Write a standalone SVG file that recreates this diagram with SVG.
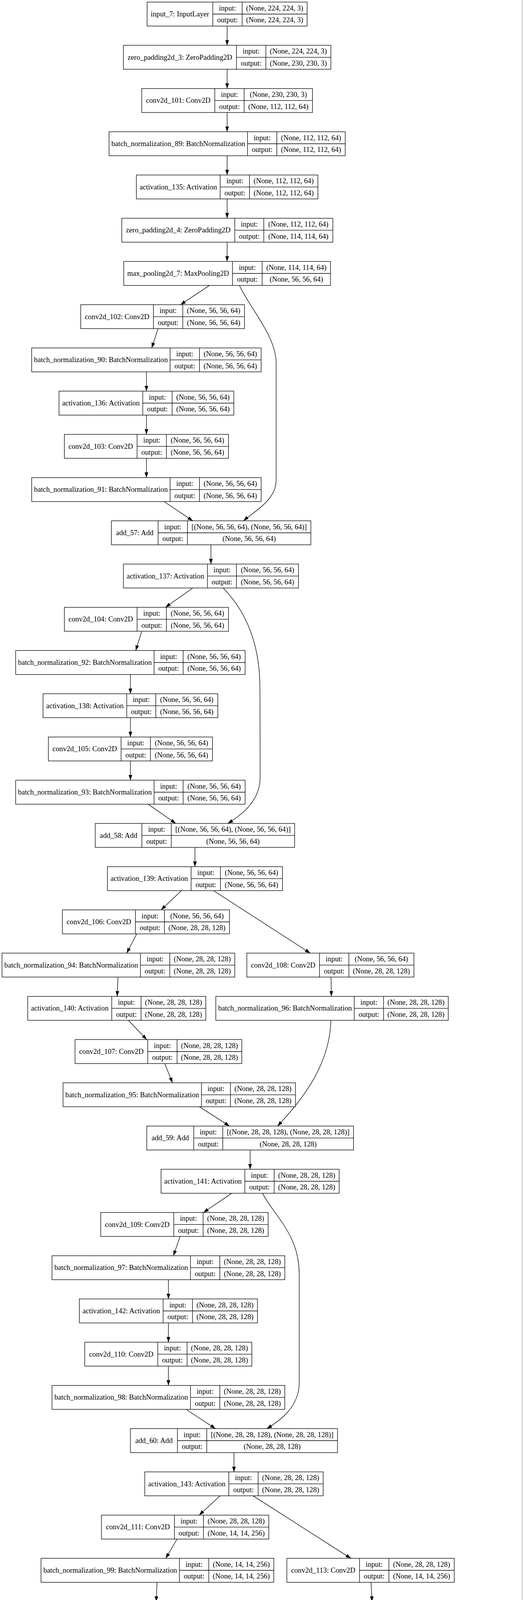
<svg xmlns="http://www.w3.org/2000/svg" width="1339" height="7156" viewBox="0 0 1339 7156">
<style>
.n rect{fill:#fff;stroke:#000;stroke-width:1.33}
.n path{fill:none;stroke:#000;stroke-width:1.33}
text{font-family:"Liberation Serif","Times New Roman",serif;font-size:18.67px;text-anchor:middle;fill:#000}
#edges path{fill:none;stroke:#000;stroke-width:1.33;marker-end:url(#ah)}
</style>
<defs>
<marker id="ah" markerUnits="userSpaceOnUse" markerWidth="14" markerHeight="10" refX="13.33" refY="4.67" orient="auto" overflow="visible"><path d="M0,0L13.33,4.67L0,9.33z" fill="#000"/></marker>
</defs>
<rect width="1339" height="7156" fill="#fff"/>
<line x1="1337" y1="0" x2="1337" y2="7156" stroke="#888" stroke-width="1"/>
<g id="edges">
<path d="M581.5,66.67V116"/>
<path d="M581.5,177.33V226.67"/>
<path d="M581.5,288V337.33"/>
<path d="M581.5,398.67V448"/>
<path d="M581.5,509.33V558.67"/>
<path d="M581.5,620V669.33"/>
<path d="M536.3,730.67L462,780"/>
<path d="M613.1,730.67C640,790 707,860 707,930L707,1230C707,1280 650,1310 623.4,1333.33"/>
<path d="M404.7,841.33L388.5,890.67"/>
<path d="M374.9,952V1001.33"/>
<path d="M374.9,1062.67V1112"/>
<path d="M374.9,1173.33V1222.67"/>
<path d="M420.1,1284L493.6,1333.33"/>
<path d="M540,1394.67V1444"/>
<path d="M493.6,1505.33L423.5,1554.67"/>
<path d="M571.3,1505.33C625,1560 665,1640 665.5,1760L666,1990C666,2050 620,2085 583.2,2108"/>
<path d="M362.9,1616L347.5,1665.33"/>
<path d="M333.9,1726.67V1776"/>
<path d="M333.9,1837.33V1886.67"/>
<path d="M333.9,1948V1997.33"/>
<path d="M379.1,2058.67L450,2108"/>
<path d="M499.1,2169.33V2218.67"/>
<path d="M464.5,2280L412.4,2329.33"/>
<path d="M546.5,2280L794.1,2440"/>
<path d="M350.1,2390.67L324.5,2440"/>
<path d="M302,2501.33L300,2550.67"/>
<path d="M847.5,2501.33L848.5,2550.67"/>
<path d="M328.7,2612L375.7,2661.33"/>
<path d="M421.8,2722.67L441.5,2772"/>
<path d="M510.6,2833.33L587.5,2882.67"/>
<path d="M847.1,2612C845,2720 780,2810 710.4,2882.67"/>
<path d="M640.4,2944V2993.33"/>
<path d="M593.4,3054.67L520.9,3104"/>
<path d="M672,3054.67C700,3110 766,3160 766,3260L766,3540C766,3600 720,3635 683.1,3657.33"/>
<path d="M461.1,3165.33L444,3214.67"/>
<path d="M431.2,3276V3325.33"/>
<path d="M431.2,3386.67V3436"/>
<path d="M431.2,3497.33V3546.67"/>
<path d="M476.5,3608L551.6,3657.33"/>
<path d="M599,3718.67V3768"/>
<path d="M563.6,3829.33L509.8,3878.67"/>
<path d="M648.1,3829.33L898.3,3989.33"/>
<path d="M453.4,3940L424.4,3989.33"/>
<path d="M402,4050.67L400,4100"/>
<path d="M950,4050.67L952.5,4100"/>
<path d="M427,4161.33L472.2,4210.67"/>
<path d="M520.9,4272L543.1,4321.33"/>
<path d="M608.8,4382.67L690,4432"/>
<path d="M950.4,4161.33C948,4270 890,4380 817.2,4432"/>
<path d="M741.6,4493.33V4542.67"/>
<path d="M694.2,4604L620.8,4653.33"/>
<path d="M773.6,4604C802,4660 868.4,4710 868.4,4810L868.4,5090C868.4,5150 822,5185 785.6,5206.67"/>
<path d="M559.3,4714.67L542.2,4764"/>
<path d="M528.1,4825.33V4874.67"/>
<path d="M528.1,4936V4985.33"/>
<path d="M528.1,5046.67V5096"/>
<path d="M576.4,5157.33L650.7,5206.67"/>
<path d="M697.6,5268V5317.33"/>
<path d="M662.6,5378.67L608.8,5428"/>
<path d="M742.9,5378.67L988.8,5538.67"/>
<path d="M553.3,5489.33L524.3,5538.67"/>
<path d="M502.5,5600L501.5,5649.33"/>
<path d="M1038.3,5600L1038.8,5649.33"/>
<path d="M531.1,5710.67L574.7,5760"/>
<path d="M619.1,5821.33L638.7,5870.67"/>
<path d="M704.5,5932L778.7,5981.33"/>
<path d="M1035.8,5710.67C1030,5820 980,5930 906.8,5981.33"/>
<path d="M833.9,6042.67V6092"/>
<path d="M787.3,6153.33L715.6,6202.67"/>
<path d="M865,6153.33C893,6210 956.4,6260 956.4,6360L956.4,6640C956.4,6700 910,6735 872.7,6756"/>
<path d="M655.8,6264L638.7,6313.33"/>
<path d="M624.2,6374.67V6424"/>
<path d="M624.2,6485.33V6534.67"/>
<path d="M624.2,6596V6645.33"/>
<path d="M670.3,6706.67L742.9,6756"/>
<path d="M789.5,6817.33V6866.67"/>
<path d="M789.5,6928V6977.33"/>
<path d="M789.5,7038.67V7088"/>
</g>

<g id="input_7" class="n" transform="translate(0,5.33)"><rect x="376.6" y="0" width="409.8" height="61.33"/><path d="M544.8,0V61.33M619.9,0V61.33M544.8,30.67H786.4"/><text x="460.7" y="36.7">input_7: InputLayer</text><text x="582.35" y="21.3">input:</text><text x="582.35" y="52">output:</text><text x="703.15" y="21.3">(None, 224, 224, 3)</text><text x="703.15" y="52">(None, 224, 224, 3)</text></g>
<g id="zero_padding2d_3" class="n" transform="translate(0,116)"><rect x="315.9" y="0" width="531.2" height="61.33"/><path d="M605.4,0V61.33M680.6,0V61.33M605.4,30.67H847.1"/><text x="460.65" y="36.7">zero_padding2d_3: ZeroPadding2D</text><text x="643" y="21.3">input:</text><text x="643" y="52">output:</text><text x="763.85" y="21.3">(None, 224, 224, 3)</text><text x="763.85" y="52">(None, 230, 230, 3)</text></g>
<g id="conv2d_101" class="n" transform="translate(0,226.67)"><rect x="362.9" y="0" width="437.2" height="61.33"/><path d="M549.9,0V61.33M625.1,0V61.33M549.9,30.67H800.1"/><text x="456.4" y="36.7">conv2d_101: Conv2D</text><text x="587.5" y="21.3">input:</text><text x="587.5" y="52">output:</text><text x="712.6" y="21.3">(None, 230, 230, 3)</text><text x="712.6" y="52">(None, 112, 112, 64)</text></g>
<g id="batch_normalization_89" class="n" transform="translate(0,337.33)"><rect x="279.2" y="0" width="604.6" height="61.33"/><path d="M633.6,0V61.33M708.7,0V61.33M633.6,30.67H883.8"/><text x="456.4" y="36.7">batch_normalization_89: BatchNormalization</text><text x="671.15" y="21.3">input:</text><text x="671.15" y="52">output:</text><text x="796.25" y="21.3">(None, 112, 112, 64)</text><text x="796.25" y="52">(None, 112, 112, 64)</text></g>
<g id="activation_135" class="n" transform="translate(0,448)"><rect x="349.2" y="0" width="464.6" height="61.33"/><path d="M563.6,0V61.33M638.7,0V61.33M563.6,30.67H813.8"/><text x="456.4" y="36.7">activation_135: Activation</text><text x="601.15" y="21.3">input:</text><text x="601.15" y="52">output:</text><text x="726.25" y="21.3">(None, 112, 112, 64)</text><text x="726.25" y="52">(None, 112, 112, 64)</text></g>
<g id="zero_padding2d_4" class="n" transform="translate(0,558.67)"><rect x="311.7" y="0" width="540.5" height="61.33"/><path d="M601.1,0V61.33M675.4,0V61.33M601.1,30.67H852.2"/><text x="456.4" y="36.7">zero_padding2d_4: ZeroPadding2D</text><text x="638.25" y="21.3">input:</text><text x="638.25" y="52">output:</text><text x="763.8" y="21.3">(None, 112, 112, 64)</text><text x="763.8" y="52">(None, 114, 114, 64)</text></g>
<g id="max_pooling2d_7" class="n" transform="translate(0,669.33)"><rect x="316.8" y="0" width="529.4" height="61.33"/><path d="M595.2,0V61.33M671.2,0V61.33M595.2,30.67H846.2"/><text x="456" y="36.7">max_pooling2d_7: MaxPooling2D</text><text x="633.2" y="21.3">input:</text><text x="633.2" y="52">output:</text><text x="758.7" y="21.3">(None, 114, 114, 64)</text><text x="758.7" y="52">(None, 56, 56, 64)</text></g>
<g id="conv2d_102" class="n" transform="translate(0,780)"><rect x="206.6" y="0" width="419.3" height="61.33"/><path d="M392.8,0V61.33M467.9,0V61.33M392.8,30.67H625.9"/><text x="299.7" y="36.7">conv2d_102: Conv2D</text><text x="430.35" y="21.3">input:</text><text x="430.35" y="52">output:</text><text x="546.9" y="21.3">(None, 56, 56, 64)</text><text x="546.9" y="52">(None, 56, 56, 64)</text></g>
<g id="batch_normalization_90" class="n" transform="translate(0,890.67)"><rect x="81.1" y="0" width="587.5" height="61.33"/><path d="M435.5,0V61.33M510.6,0V61.33M435.5,30.67H668.6"/><text x="258.3" y="36.7">batch_normalization_90: BatchNormalization</text><text x="473.05" y="21.3">input:</text><text x="473.05" y="52">output:</text><text x="589.6" y="21.3">(None, 56, 56, 64)</text><text x="589.6" y="52">(None, 56, 56, 64)</text></g>
<g id="activation_136" class="n" transform="translate(0,1001.33)"><rect x="151.1" y="0" width="447.5" height="61.33"/><path d="M365.5,0V61.33M440.6,0V61.33M365.5,30.67H598.6"/><text x="258.3" y="36.7">activation_136: Activation</text><text x="403.05" y="21.3">input:</text><text x="403.05" y="52">output:</text><text x="519.6" y="21.3">(None, 56, 56, 64)</text><text x="519.6" y="52">(None, 56, 56, 64)</text></g>
<g id="conv2d_103" class="n" transform="translate(0,1112)"><rect x="164.8" y="0" width="420.1" height="61.33"/><path d="M350.9,0V61.33M426.1,0V61.33M350.9,30.67H584.9"/><text x="257.85" y="36.7">conv2d_103: Conv2D</text><text x="388.5" y="21.3">input:</text><text x="388.5" y="52">output:</text><text x="505.5" y="21.3">(None, 56, 56, 64)</text><text x="505.5" y="52">(None, 56, 56, 64)</text></g>
<g id="batch_normalization_91" class="n" transform="translate(0,1222.67)"><rect x="81.1" y="0" width="587.5" height="61.33"/><path d="M435.5,0V61.33M510.6,0V61.33M435.5,30.67H668.6"/><text x="258.3" y="36.7">batch_normalization_91: BatchNormalization</text><text x="473.05" y="21.3">input:</text><text x="473.05" y="52">output:</text><text x="589.6" y="21.3">(None, 56, 56, 64)</text><text x="589.6" y="52">(None, 56, 56, 64)</text></g>
<g id="add_57" class="n" transform="translate(0,1333.33)"><rect x="285.2" y="0" width="510.6" height="61.33"/><path d="M404.7,0V61.33M479.9,0V61.33M404.7,30.67H795.8"/><text x="344.95" y="36.7">add_57: Add</text><text x="442.3" y="21.3">input:</text><text x="442.3" y="52">output:</text><text x="637.85" y="21.3">[(None, 56, 56, 64), (None, 56, 56, 64)]</text><text x="637.85" y="52">(None, 56, 56, 64)</text></g>
<g id="activation_137" class="n" transform="translate(0,1444)"><rect x="315.9" y="0" width="448.3" height="61.33"/><path d="M531.1,0V61.33M605.4,0V61.33M531.1,30.67H764.2"/><text x="423.5" y="36.7">activation_137: Activation</text><text x="568.25" y="21.3">input:</text><text x="568.25" y="52">output:</text><text x="684.8" y="21.3">(None, 56, 56, 64)</text><text x="684.8" y="52">(None, 56, 56, 64)</text></g>
<g id="conv2d_104" class="n" transform="translate(0,1554.67)"><rect x="164.8" y="0" width="420.1" height="61.33"/><path d="M350.9,0V61.33M426.1,0V61.33M350.9,30.67H584.9"/><text x="257.85" y="36.7">conv2d_104: Conv2D</text><text x="388.5" y="21.3">input:</text><text x="388.5" y="52">output:</text><text x="505.5" y="21.3">(None, 56, 56, 64)</text><text x="505.5" y="52">(None, 56, 56, 64)</text></g>
<g id="batch_normalization_92" class="n" transform="translate(0,1665.33)"><rect x="40.1" y="0" width="587.5" height="61.33"/><path d="M394.5,0V61.33M468.8,0V61.33M394.5,30.67H627.6"/><text x="217.3" y="36.7">batch_normalization_92: BatchNormalization</text><text x="431.65" y="21.3">input:</text><text x="431.65" y="52">output:</text><text x="548.2" y="21.3">(None, 56, 56, 64)</text><text x="548.2" y="52">(None, 56, 56, 64)</text></g>
<g id="activation_138" class="n" transform="translate(0,1776)"><rect x="110.2" y="0" width="447.4" height="61.33"/><path d="M324.5,0V61.33M398.8,0V61.33M324.5,30.67H557.6"/><text x="217.35" y="36.7">activation_138: Activation</text><text x="361.65" y="21.3">input:</text><text x="361.65" y="52">output:</text><text x="478.2" y="21.3">(None, 56, 56, 64)</text><text x="478.2" y="52">(None, 56, 56, 64)</text></g>
<g id="conv2d_105" class="n" transform="translate(0,1886.67)"><rect x="123.85" y="0" width="420.1" height="61.33"/><path d="M309.95,0V61.33M385.15,0V61.33M309.95,30.67H543.95"/><text x="216.9" y="36.7">conv2d_105: Conv2D</text><text x="347.55" y="21.3">input:</text><text x="347.55" y="52">output:</text><text x="464.55" y="21.3">(None, 56, 56, 64)</text><text x="464.55" y="52">(None, 56, 56, 64)</text></g>
<g id="batch_normalization_93" class="n" transform="translate(0,1997.33)"><rect x="40.1" y="0" width="587.5" height="61.33"/><path d="M394.5,0V61.33M468.8,0V61.33M394.5,30.67H627.6"/><text x="217.3" y="36.7">batch_normalization_93: BatchNormalization</text><text x="431.65" y="21.3">input:</text><text x="431.65" y="52">output:</text><text x="548.2" y="21.3">(None, 56, 56, 64)</text><text x="548.2" y="52">(None, 56, 56, 64)</text></g>
<g id="add_58" class="n" transform="translate(0,2108)"><rect x="243.8" y="0" width="510.6" height="61.33"/><path d="M363.3,0V61.33M438.5,0V61.33M363.3,30.67H754.4"/><text x="303.55" y="36.7">add_58: Add</text><text x="400.9" y="21.3">input:</text><text x="400.9" y="52">output:</text><text x="596.45" y="21.3">[(None, 56, 56, 64), (None, 56, 56, 64)]</text><text x="596.45" y="52">(None, 56, 56, 64)</text></g>
<g id="activation_139" class="n" transform="translate(0,2218.67)"><rect x="275" y="0" width="448.3" height="61.33"/><path d="M489.3,0V61.33M564.4,0V61.33M489.3,30.67H723.3"/><text x="382.15" y="36.7">activation_139: Activation</text><text x="526.85" y="21.3">input:</text><text x="526.85" y="52">output:</text><text x="643.85" y="21.3">(None, 56, 56, 64)</text><text x="643.85" y="52">(None, 56, 56, 64)</text></g>
<g id="conv2d_106" class="n" transform="translate(0,2329.33)"><rect x="159.7" y="0" width="427.8" height="61.33"/><path d="M346.7,0V61.33M421,0V61.33M346.7,30.67H587.5"/><text x="253.2" y="36.7">conv2d_106: Conv2D</text><text x="383.85" y="21.3">input:</text><text x="383.85" y="52">output:</text><text x="504.25" y="21.3">(None, 56, 56, 64)</text><text x="504.25" y="52">(None, 28, 28, 128)</text></g>
<g id="batch_normalization_94" class="n" transform="translate(0,2440)"><rect x="5.1" y="0" width="596" height="61.33"/><path d="M359.5,0V61.33M434.6,0V61.33M359.5,30.67H601.1"/><text x="182.3" y="36.7">batch_normalization_94: BatchNormalization</text><text x="397.05" y="21.3">input:</text><text x="397.05" y="52">output:</text><text x="517.85" y="21.3">(None, 28, 28, 128)</text><text x="517.85" y="52">(None, 28, 28, 128)</text></g>
<g id="conv2d_108" class="n" transform="translate(0,2440)"><rect x="631.9" y="0" width="427.8" height="61.33"/><path d="M818,0V61.33M893.2,0V61.33M818,30.67H1059.7"/><text x="724.95" y="36.7">conv2d_108: Conv2D</text><text x="855.6" y="21.3">input:</text><text x="855.6" y="52">output:</text><text x="976.45" y="21.3">(None, 56, 56, 64)</text><text x="976.45" y="52">(None, 28, 28, 128)</text></g>
<g id="activation_140" class="n" transform="translate(0,2550.67)"><rect x="70.9" y="0" width="456" height="61.33"/><path d="M286.1,0V61.33M361.2,0V61.33M286.1,30.67H526.9"/><text x="178.5" y="36.7">activation_140: Activation</text><text x="323.65" y="21.3">input:</text><text x="323.65" y="52">output:</text><text x="444.05" y="21.3">(None, 28, 28, 128)</text><text x="444.05" y="52">(None, 28, 28, 128)</text></g>
<g id="batch_normalization_96" class="n" transform="translate(0,2550.67)"><rect x="552.5" y="0" width="595.1" height="61.33"/><path d="M906.8,0V61.33M982,0V61.33M906.8,30.67H1147.6"/><text x="729.65" y="36.7">batch_normalization_96: BatchNormalization</text><text x="944.4" y="21.3">input:</text><text x="944.4" y="52">output:</text><text x="1064.8" y="21.3">(None, 28, 28, 128)</text><text x="1064.8" y="52">(None, 28, 28, 128)</text></g>
<g id="conv2d_107" class="n" transform="translate(0,2661.33)"><rect x="192.1" y="0" width="427" height="61.33"/><path d="M378.3,0V61.33M453.4,0V61.33M378.3,30.67H619.1"/><text x="285.2" y="36.7">conv2d_107: Conv2D</text><text x="415.85" y="21.3">input:</text><text x="415.85" y="52">output:</text><text x="536.25" y="21.3">(None, 28, 28, 128)</text><text x="536.25" y="52">(None, 28, 28, 128)</text></g>
<g id="batch_normalization_95" class="n" transform="translate(0,2772)"><rect x="161.4" y="0" width="595.1" height="61.33"/><path d="M515.8,0V61.33M590,0V61.33M515.8,30.67H756.5"/><text x="338.6" y="36.7">batch_normalization_95: BatchNormalization</text><text x="552.9" y="21.3">input:</text><text x="552.9" y="52">output:</text><text x="673.25" y="21.3">(None, 28, 28, 128)</text><text x="673.25" y="52">(None, 28, 28, 128)</text></g>
<g id="add_59" class="n" transform="translate(0,2882.67)"><rect x="375.7" y="0" width="529.4" height="61.33"/><path d="M496.1,0V61.33M570.4,0V61.33M496.1,30.67H905.1"/><text x="435.9" y="36.7">add_59: Add</text><text x="533.25" y="21.3">input:</text><text x="533.25" y="52">output:</text><text x="737.75" y="21.3">[(None, 28, 28, 128), (None, 28, 28, 128)]</text><text x="737.75" y="52">(None, 28, 28, 128)</text></g>
<g id="activation_141" class="n" transform="translate(0,2993.33)"><rect x="412.4" y="0" width="456" height="61.33"/><path d="M626.8,0V61.33M701.9,0V61.33M626.8,30.67H868.4"/><text x="519.6" y="36.7">activation_141: Activation</text><text x="664.35" y="21.3">input:</text><text x="664.35" y="52">output:</text><text x="785.15" y="21.3">(None, 28, 28, 128)</text><text x="785.15" y="52">(None, 28, 28, 128)</text></g>
<g id="conv2d_109" class="n" transform="translate(0,3104)"><rect x="257.9" y="0" width="428.6" height="61.33"/><path d="M444.9,0V61.33M520,0V61.33M444.9,30.67H686.5"/><text x="351.4" y="36.7">conv2d_109: Conv2D</text><text x="482.45" y="21.3">input:</text><text x="482.45" y="52">output:</text><text x="603.25" y="21.3">(None, 28, 28, 128)</text><text x="603.25" y="52">(None, 28, 28, 128)</text></g>
<g id="batch_normalization_97" class="n" transform="translate(0,3214.67)"><rect x="133.2" y="0" width="596" height="61.33"/><path d="M487.6,0V61.33M562.7,0V61.33M487.6,30.67H729.2"/><text x="310.4" y="36.7">batch_normalization_97: BatchNormalization</text><text x="525.15" y="21.3">input:</text><text x="525.15" y="52">output:</text><text x="645.95" y="21.3">(None, 28, 28, 128)</text><text x="645.95" y="52">(None, 28, 28, 128)</text></g>
<g id="activation_142" class="n" transform="translate(0,3325.33)"><rect x="203.2" y="0" width="456" height="61.33"/><path d="M417.6,0V61.33M492.7,0V61.33M417.6,30.67H659.2"/><text x="310.4" y="36.7">activation_142: Activation</text><text x="455.15" y="21.3">input:</text><text x="455.15" y="52">output:</text><text x="575.95" y="21.3">(None, 28, 28, 128)</text><text x="575.95" y="52">(None, 28, 28, 128)</text></g>
<g id="conv2d_110" class="n" transform="translate(0,3436)"><rect x="216.9" y="0" width="427.8" height="61.33"/><path d="M403.9,0V61.33M479,0V61.33M403.9,30.67H644.7"/><text x="310.4" y="36.7">conv2d_110: Conv2D</text><text x="441.45" y="21.3">input:</text><text x="441.45" y="52">output:</text><text x="561.85" y="21.3">(None, 28, 28, 128)</text><text x="561.85" y="52">(None, 28, 28, 128)</text></g>
<g id="batch_normalization_98" class="n" transform="translate(0,3546.67)"><rect x="133.2" y="0" width="596" height="61.33"/><path d="M487.6,0V61.33M562.7,0V61.33M487.6,30.67H729.2"/><text x="310.4" y="36.7">batch_normalization_98: BatchNormalization</text><text x="525.15" y="21.3">input:</text><text x="525.15" y="52">output:</text><text x="645.95" y="21.3">(None, 28, 28, 128)</text><text x="645.95" y="52">(None, 28, 28, 128)</text></g>
<g id="add_60" class="n" transform="translate(0,3657.33)"><rect x="333.9" y="0" width="530.2" height="61.33"/><path d="M454.3,0V61.33M529.4,0V61.33M454.3,30.67H864.1"/><text x="394.1" y="36.7">add_60: Add</text><text x="491.85" y="21.3">input:</text><text x="491.85" y="52">output:</text><text x="696.75" y="21.3">[(None, 28, 28, 128), (None, 28, 28, 128)]</text><text x="696.75" y="52">(None, 28, 28, 128)</text></g>
<g id="activation_143" class="n" transform="translate(0,3768)"><rect x="370.6" y="0" width="456.8" height="61.33"/><path d="M585.8,0V61.33M660.9,0V61.33M585.8,30.67H827.4"/><text x="478.2" y="36.7">activation_143: Activation</text><text x="623.35" y="21.3">input:</text><text x="623.35" y="52">output:</text><text x="744.15" y="21.3">(None, 28, 28, 128)</text><text x="744.15" y="52">(None, 28, 28, 128)</text></g>
<g id="conv2d_111" class="n" transform="translate(0,3878.67)"><rect x="259.6" y="0" width="428.6" height="61.33"/><path d="M446.6,0V61.33M520.9,0V61.33M446.6,30.67H688.2"/><text x="353.1" y="36.7">conv2d_111: Conv2D</text><text x="483.75" y="21.3">input:</text><text x="483.75" y="52">output:</text><text x="604.55" y="21.3">(None, 28, 28, 128)</text><text x="604.55" y="52">(None, 14, 14, 256)</text></g>
<g id="batch_normalization_99" class="n" transform="translate(0,3989.33)"><rect x="105" y="0" width="596" height="61.33"/><path d="M459.4,0V61.33M534.5,0V61.33M459.4,30.67H701"/><text x="282.2" y="36.7">batch_normalization_99: BatchNormalization</text><text x="496.95" y="21.3">input:</text><text x="496.95" y="52">output:</text><text x="617.75" y="21.3">(None, 14, 14, 256)</text><text x="617.75" y="52">(None, 14, 14, 256)</text></g>
<g id="conv2d_113" class="n" transform="translate(0,3989.33)"><rect x="734.4" y="0" width="428.6" height="61.33"/><path d="M920.5,0V61.33M995.6,0V61.33M920.5,30.67H1163"/><text x="827.45" y="36.7">conv2d_113: Conv2D</text><text x="958.05" y="21.3">input:</text><text x="958.05" y="52">output:</text><text x="1079.3" y="21.3">(None, 28, 28, 128)</text><text x="1079.3" y="52">(None, 14, 14, 256)</text></g>
<g id="activation_144" class="n" transform="translate(0,4100)"><rect x="170.8" y="0" width="456" height="61.33"/><path d="M386,0V61.33M460.2,0V61.33M386,30.67H626.8"/><text x="278.4" y="36.7">activation_144: Activation</text><text x="423.1" y="21.3">input:</text><text x="423.1" y="52">output:</text><text x="543.5" y="21.3">(None, 14, 14, 256)</text><text x="543.5" y="52">(None, 14, 14, 256)</text></g>
<g id="batch_normalization_101" class="n" transform="translate(0,4100)"><rect x="651.5" y="0" width="604.6" height="61.33"/><path d="M1014.4,0V61.33M1089.6,0V61.33M1014.4,30.67H1256.1"/><text x="832.95" y="36.7">batch_normalization_101: BatchNormalization</text><text x="1052" y="21.3">input:</text><text x="1052" y="52">output:</text><text x="1172.85" y="21.3">(None, 14, 14, 256)</text><text x="1172.85" y="52">(None, 14, 14, 256)</text></g>
<g id="conv2d_112" class="n" transform="translate(0,4210.67)"><rect x="292" y="0" width="427.8" height="61.33"/><path d="M478.2,0V61.33M553.3,0V61.33M478.2,30.67H719.8"/><text x="385.1" y="36.7">conv2d_112: Conv2D</text><text x="515.75" y="21.3">input:</text><text x="515.75" y="52">output:</text><text x="636.55" y="21.3">(None, 14, 14, 256)</text><text x="636.55" y="52">(None, 14, 14, 256)</text></g>
<g id="batch_normalization_100" class="n" transform="translate(0,4321.33)"><rect x="256.2" y="0" width="605.4" height="61.33"/><path d="M620.8,0V61.33M695.9,0V61.33M620.8,30.67H861.6"/><text x="438.5" y="36.7">batch_normalization_100: BatchNormalization</text><text x="658.35" y="21.3">input:</text><text x="658.35" y="52">output:</text><text x="778.75" y="21.3">(None, 14, 14, 256)</text><text x="778.75" y="52">(None, 14, 14, 256)</text></g>
<g id="add_61" class="n" transform="translate(0,4432)"><rect x="476.5" y="0" width="530.2" height="61.33"/><path d="M596.9,0V61.33M672,0V61.33M596.9,30.67H1006.7"/><text x="536.7" y="36.7">add_61: Add</text><text x="634.45" y="21.3">input:</text><text x="634.45" y="52">output:</text><text x="839.35" y="21.3">[(None, 14, 14, 256), (None, 14, 14, 256)]</text><text x="839.35" y="52">(None, 14, 14, 256)</text></g>
<g id="activation_145" class="n" transform="translate(0,4542.67)"><rect x="514" y="0" width="456" height="61.33"/><path d="M728.4,0V61.33M803.5,0V61.33M728.4,30.67H970"/><text x="621.2" y="36.7">activation_145: Activation</text><text x="765.95" y="21.3">input:</text><text x="765.95" y="52">output:</text><text x="886.75" y="21.3">(None, 14, 14, 256)</text><text x="886.75" y="52">(None, 14, 14, 256)</text></g>
<g id="conv2d_114" class="n" transform="translate(0,4653.33)"><rect x="358.6" y="0" width="427.8" height="61.33"/><path d="M544.8,0V61.33M619.9,0V61.33M544.8,30.67H786.4"/><text x="451.7" y="36.7">conv2d_114: Conv2D</text><text x="582.35" y="21.3">input:</text><text x="582.35" y="52">output:</text><text x="703.15" y="21.3">(None, 14, 14, 256)</text><text x="703.15" y="52">(None, 14, 14, 256)</text></g>
<g id="batch_normalization_102" class="n" transform="translate(0,4764)"><rect x="225.4" y="0" width="605.4" height="61.33"/><path d="M590,0V61.33M665.2,0V61.33M590,30.67H830.8"/><text x="407.7" y="36.7">batch_normalization_102: BatchNormalization</text><text x="627.6" y="21.3">input:</text><text x="627.6" y="52">output:</text><text x="748" y="21.3">(None, 14, 14, 256)</text><text x="748" y="52">(None, 14, 14, 256)</text></g>
<g id="activation_146" class="n" transform="translate(0,4874.67)"><rect x="300.6" y="0" width="455.9" height="61.33"/><path d="M514.9,0V61.33M590,0V61.33M514.9,30.67H756.5"/><text x="407.75" y="36.7">activation_146: Activation</text><text x="552.45" y="21.3">input:</text><text x="552.45" y="52">output:</text><text x="673.25" y="21.3">(None, 14, 14, 256)</text><text x="673.25" y="52">(None, 14, 14, 256)</text></g>
<g id="conv2d_115" class="n" transform="translate(0,4985.33)"><rect x="315.1" y="0" width="426.9" height="61.33"/><path d="M501.2,0V61.33M576.4,0V61.33M501.2,30.67H742"/><text x="408.15" y="36.7">conv2d_115: Conv2D</text><text x="538.8" y="21.3">input:</text><text x="538.8" y="52">output:</text><text x="659.2" y="21.3">(None, 14, 14, 256)</text><text x="659.2" y="52">(None, 14, 14, 256)</text></g>
<g id="batch_normalization_103" class="n" transform="translate(0,5096)"><rect x="225.4" y="0" width="605.4" height="61.33"/><path d="M590,0V61.33M665.2,0V61.33M590,30.67H830.8"/><text x="407.7" y="36.7">batch_normalization_103: BatchNormalization</text><text x="627.6" y="21.3">input:</text><text x="627.6" y="52">output:</text><text x="748" y="21.3">(None, 14, 14, 256)</text><text x="748" y="52">(None, 14, 14, 256)</text></g>
<g id="add_62" class="n" transform="translate(0,5206.67)"><rect x="432.9" y="0" width="529.4" height="61.33"/><path d="M553.3,0V61.33M627.6,0V61.33M553.3,30.67H962.3"/><text x="493.1" y="36.7">add_62: Add</text><text x="590.45" y="21.3">input:</text><text x="590.45" y="52">output:</text><text x="794.95" y="21.3">[(None, 14, 14, 256), (None, 14, 14, 256)]</text><text x="794.95" y="52">(None, 14, 14, 256)</text></g>
<g id="activation_147" class="n" transform="translate(0,5317.33)"><rect x="469.6" y="0" width="456" height="61.33"/><path d="M684.8,0V61.33M759.1,0V61.33M684.8,30.67H925.6"/><text x="577.2" y="36.7">activation_147: Activation</text><text x="721.95" y="21.3">input:</text><text x="721.95" y="52">output:</text><text x="842.35" y="21.3">(None, 14, 14, 256)</text><text x="842.35" y="52">(None, 14, 14, 256)</text></g>
<g id="conv2d_116" class="n" transform="translate(0,5428)"><rect x="358.6" y="0" width="427.8" height="61.33"/><path d="M544.8,0V61.33M619.9,0V61.33M544.8,30.67H786.4"/><text x="451.7" y="36.7">conv2d_116: Conv2D</text><text x="582.35" y="21.3">input:</text><text x="582.35" y="52">output:</text><text x="703.15" y="21.3">(None, 14, 14, 256)</text><text x="703.15" y="52">(None, 7, 7, 512)</text></g>
<g id="batch_normalization_104" class="n" transform="translate(0,5538.67)"><rect x="209.2" y="0" width="587.5" height="61.33"/><path d="M573,0V61.33M648.1,0V61.33M573,30.67H796.7"/><text x="391.1" y="36.7">batch_normalization_104: BatchNormalization</text><text x="610.55" y="21.3">input:</text><text x="610.55" y="52">output:</text><text x="722.4" y="21.3">(None, 7, 7, 512)</text><text x="722.4" y="52">(None, 7, 7, 512)</text></g>
<g id="conv2d_118" class="n" transform="translate(0,5538.67)"><rect x="824" y="0" width="427.8" height="61.33"/><path d="M1010.2,0V61.33M1085.3,0V61.33M1010.2,30.67H1251.8"/><text x="917.1" y="36.7">conv2d_118: Conv2D</text><text x="1047.75" y="21.3">input:</text><text x="1047.75" y="52">output:</text><text x="1168.55" y="21.3">(None, 14, 14, 256)</text><text x="1168.55" y="52">(None, 7, 7, 512)</text></g>
<g id="activation_148" class="n" transform="translate(0,5649.33)"><rect x="281.8" y="0" width="438.9" height="61.33"/><path d="M497,0V61.33M572.1,0V61.33M497,30.67H720.7"/><text x="389.4" y="36.7">activation_148: Activation</text><text x="534.55" y="21.3">input:</text><text x="534.55" y="52">output:</text><text x="646.4" y="21.3">(None, 7, 7, 512)</text><text x="646.4" y="52">(None, 7, 7, 512)</text></g>
<g id="batch_normalization_106" class="n" transform="translate(0,5649.33)"><rect x="745.5" y="0" width="587.4" height="61.33"/><path d="M1109.2,0V61.33M1184.4,0V61.33M1109.2,30.67H1332.9"/><text x="927.35" y="36.7">batch_normalization_106: BatchNormalization</text><text x="1146.8" y="21.3">input:</text><text x="1146.8" y="52">output:</text><text x="1258.65" y="21.3">(None, 7, 7, 512)</text><text x="1258.65" y="52">(None, 7, 7, 512)</text></g>
<g id="conv2d_117" class="n" transform="translate(0,5760)"><rect x="398.8" y="0" width="410.7" height="61.33"/><path d="M585.8,0V61.33M660.9,0V61.33M585.8,30.67H809.5"/><text x="492.3" y="36.7">conv2d_117: Conv2D</text><text x="623.35" y="21.3">input:</text><text x="623.35" y="52">output:</text><text x="735.2" y="21.3">(None, 7, 7, 512)</text><text x="735.2" y="52">(None, 7, 7, 512)</text></g>
<g id="batch_normalization_105" class="n" transform="translate(0,5870.67)"><rect x="361.2" y="0" width="587.5" height="61.33"/><path d="M725,0V61.33M800.1,0V61.33M725,30.67H948.7"/><text x="543.1" y="36.7">batch_normalization_105: BatchNormalization</text><text x="762.55" y="21.3">input:</text><text x="762.55" y="52">output:</text><text x="874.4" y="21.3">(None, 7, 7, 512)</text><text x="874.4" y="52">(None, 7, 7, 512)</text></g>
<g id="add_63" class="n" transform="translate(0,5981.33)"><rect x="587.5" y="0" width="492.7" height="61.33"/><path d="M707,0V61.33M782.2,0V61.33M707,30.67H1080.2"/><text x="647.25" y="36.7">add_63: Add</text><text x="744.6" y="21.3">input:</text><text x="744.6" y="52">output:</text><text x="931.2" y="21.3">[(None, 7, 7, 512), (None, 7, 7, 512)]</text><text x="931.2" y="52">(None, 7, 7, 512)</text></g>
<g id="activation_149" class="n" transform="translate(0,6092)"><rect x="614.8" y="0" width="438.1" height="61.33"/><path d="M829.1,0V61.33M904.3,0V61.33M829.1,30.67H1052.9"/><text x="721.95" y="36.7">activation_149: Activation</text><text x="866.7" y="21.3">input:</text><text x="866.7" y="52">output:</text><text x="978.6" y="21.3">(None, 7, 7, 512)</text><text x="978.6" y="52">(None, 7, 7, 512)</text></g>
<g id="conv2d_119" class="n" transform="translate(0,6202.67)"><rect x="462.8" y="0" width="410.7" height="61.33"/><path d="M649.8,0V61.33M725,0V61.33M649.8,30.67H873.5"/><text x="556.3" y="36.7">conv2d_119: Conv2D</text><text x="687.4" y="21.3">input:</text><text x="687.4" y="52">output:</text><text x="799.25" y="21.3">(None, 7, 7, 512)</text><text x="799.25" y="52">(None, 7, 7, 512)</text></g>
<g id="batch_normalization_107" class="n" transform="translate(0,6313.33)"><rect x="330.5" y="0" width="587.4" height="61.33"/><path d="M695.1,0V61.33M769.4,0V61.33M695.1,30.67H917.9"/><text x="512.8" y="36.7">batch_normalization_107: BatchNormalization</text><text x="732.25" y="21.3">input:</text><text x="732.25" y="52">output:</text><text x="843.65" y="21.3">(None, 7, 7, 512)</text><text x="843.65" y="52">(None, 7, 7, 512)</text></g>
<g id="activation_150" class="n" transform="translate(0,6424)"><rect x="404.7" y="0" width="439" height="61.33"/><path d="M619.9,0V61.33M695.1,0V61.33M619.9,30.67H843.7"/><text x="512.3" y="36.7">activation_150: Activation</text><text x="657.5" y="21.3">input:</text><text x="657.5" y="52">output:</text><text x="769.4" y="21.3">(None, 7, 7, 512)</text><text x="769.4" y="52">(None, 7, 7, 512)</text></g>
<g id="conv2d_120" class="n" transform="translate(0,6534.67)"><rect x="419.3" y="0" width="409.8" height="61.33"/><path d="M606.3,0V61.33M680.6,0V61.33M606.3,30.67H829.1"/><text x="512.8" y="36.7">conv2d_120: Conv2D</text><text x="643.45" y="21.3">input:</text><text x="643.45" y="52">output:</text><text x="754.85" y="21.3">(None, 7, 7, 512)</text><text x="754.85" y="52">(None, 7, 7, 512)</text></g>
<g id="batch_normalization_108" class="n" transform="translate(0,6645.33)"><rect x="330.5" y="0" width="587.4" height="61.33"/><path d="M695.1,0V61.33M769.4,0V61.33M695.1,30.67H917.9"/><text x="512.8" y="36.7">batch_normalization_108: BatchNormalization</text><text x="732.25" y="21.3">input:</text><text x="732.25" y="52">output:</text><text x="843.65" y="21.3">(None, 7, 7, 512)</text><text x="843.65" y="52">(None, 7, 7, 512)</text></g>
<g id="add_64" class="n" transform="translate(0,6756)"><rect x="543.1" y="0" width="493.5" height="61.33"/><path d="M663.5,0V61.33M737.8,0V61.33M663.5,30.67H1036.6"/><text x="603.3" y="36.7">add_64: Add</text><text x="700.65" y="21.3">input:</text><text x="700.65" y="52">output:</text><text x="887.2" y="21.3">[(None, 7, 7, 512), (None, 7, 7, 512)]</text><text x="887.2" y="52">(None, 7, 7, 512)</text></g>
<g id="activation_151" class="n" transform="translate(0,6866.67)"><rect x="570.4" y="0" width="438.1" height="61.33"/><path d="M784.7,0V61.33M859.9,0V61.33M784.7,30.67H1008.5"/><text x="677.55" y="36.7">activation_151: Activation</text><text x="822.3" y="21.3">input:</text><text x="822.3" y="52">output:</text><text x="934.2" y="21.3">(None, 7, 7, 512)</text><text x="934.2" y="52">(None, 7, 7, 512)</text></g>
<g id="average_pooling2d_2" class="n" transform="translate(0,6977.33)"><rect x="512.3" y="0" width="554.2" height="61.33"/><path d="M842.8,0V61.33M917.9,0V61.33M842.8,30.67H1066.5"/><text x="677.55" y="36.7">average_pooling2d_2: AveragePooling2D</text><text x="880.35" y="21.3">input:</text><text x="880.35" y="52">output:</text><text x="992.2" y="21.3">(None, 7, 7, 512)</text><text x="992.2" y="52">(None, 1, 1, 512)</text></g>
<g id="dense_6" class="n" transform="translate(0,7088)"><rect x="608" y="0" width="362.9" height="61.33"/><path d="M747.2,0V61.33M822.3,0V61.33M747.2,30.67H970.9"/><text x="677.6" y="36.7">dense_6: Dense</text><text x="784.75" y="21.3">input:</text><text x="784.75" y="52">output:</text><text x="896.6" y="21.3">(None, 1, 1, 512)</text><text x="896.6" y="52">(None, 1, 1, 2)</text></g>
</svg>
